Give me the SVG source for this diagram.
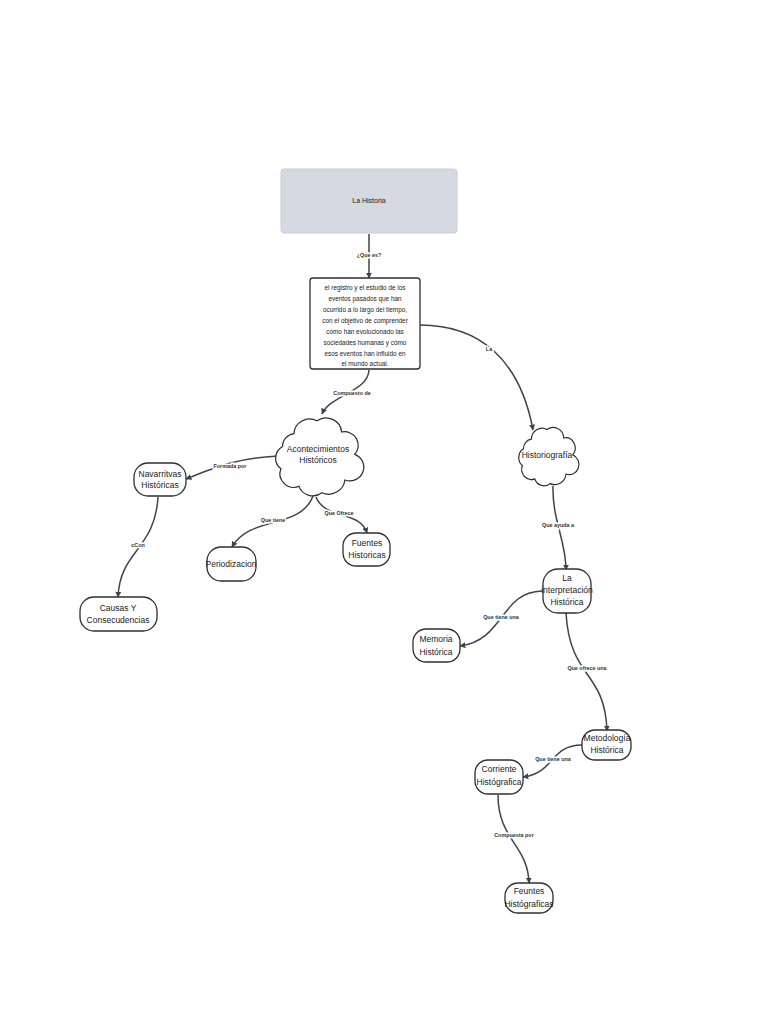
<svg xmlns="http://www.w3.org/2000/svg" width="768" height="1024" viewBox="0 0 768 1024">
<style>
.node{fill:#fff;stroke:#2f2f2f;stroke-width:1.3}
.cloud{fill:#fff;stroke:#2f2f2f}
.t{font-family:"Liberation Sans",Arial,sans-serif;font-size:8.5px;fill:#1a1a1a;text-anchor:middle}
.bt{font-family:"Liberation Sans",Arial,sans-serif;font-size:6.4px;fill:#1a1a1a;text-anchor:middle}
.lbl{font-family:"Liberation Sans",Arial,sans-serif;font-size:5.4px;font-weight:bold;fill:#333;text-anchor:middle;stroke:#fff;stroke-width:3px;paint-order:stroke}
.c{fill:none;stroke:#3c4450;stroke-width:1.5}
</style>
<defs>
<marker id="ah" viewBox="0 0 10 10" refX="9" refY="5" markerWidth="6" markerHeight="6" orient="auto" markerUnits="userSpaceOnUse">
<path d="M0,0 L10,5 L0,10 Z" fill="#3c4450"/>
</marker>
<path id="cl" d="M22,22 A19,19 0 0 1 50,6 A19,19 0 0 1 80,20 A17,17 0 0 1 96,48 A17,17 0 0 1 84,80 A20,20 0 0 1 56,96 A18,18 0 0 1 28,88 A17,17 0 0 1 6,66 A17,17 0 0 1 8,38 A16,16 0 0 1 22,22 Z"/>
</defs>
<rect width="768" height="1024" fill="#fff"/>
<g id="connectors">
<path class="c" d="M369,234 L369,278" marker-end="url(#ah)"/>
<path class="c" d="M369,370 C368,392 330,395 322,414" marker-end="url(#ah)"/>
<path class="c" d="M420,325 C480,325 520,360 533,430" marker-end="url(#ah)"/>
<path class="c" d="M278,456 C240,458 220,465 186,479" marker-end="url(#ah)"/>
<path class="c" d="M158,497 C155,550 120,550 118,597" marker-end="url(#ah)"/>
<path class="c" d="M313,496 C300,530 250,515 232,547" marker-end="url(#ah)"/>
<path class="c" d="M316,497 C325,520 360,510 367,533" marker-end="url(#ah)"/>
<path class="c" d="M553,486 C552,520 566,540 566,570" marker-end="url(#ah)"/>
<path class="c" d="M542,591 C500,592 505,640 460,646" marker-end="url(#ah)"/>
<path class="c" d="M566,613 C570,680 605,670 607,731" marker-end="url(#ah)"/>
<path class="c" d="M582,745 C550,745 555,773 523,777" marker-end="url(#ah)"/>
<path class="c" d="M498,795 C498,840 528,845 529,883" marker-end="url(#ah)"/>
</g>
<g id="labels">
<text class="lbl" x="369" y="257">¿Que es?</text>
<text class="lbl" x="352" y="395">Compuesto de</text>
<text class="lbl" x="489" y="351">La</text>
<text class="lbl" x="230" y="468">Formada por</text>
<text class="lbl" x="138" y="547">cCon</text>
<text class="lbl" x="273" y="522">Que tiene</text>
<text class="lbl" x="339" y="515">Que Ofrece</text>
<text class="lbl" x="558" y="527">Que ayuda a</text>
<text class="lbl" x="501" y="619">Que tiene una</text>
<text class="lbl" x="587" y="670">Que ofrece una</text>
<text class="lbl" x="553" y="761">Que tiene una</text>
<text class="lbl" x="514" y="837">Compuesta por</text>
</g>
<g id="n-historia">
<rect x="281" y="169" width="176" height="64" rx="3" fill="#d5d9e1" stroke="#c9ced6" stroke-width="1"/>
<text class="bt" x="369" y="203" style="font-size:7px">La Historia</text>
</g>
<g id="n-definicion">
<rect class="node" x="310" y="278" width="110" height="91" rx="3"/>
<text class="bt" x="365" y="290">el registro y el estudio de los</text>
<text class="bt" x="365" y="301">eventos pasados que han</text>
<text class="bt" x="365" y="312">ocurrido a lo largo del tiempo,</text>
<text class="bt" x="365" y="323">con el objetivo de comprender</text>
<text class="bt" x="365" y="334">cómo han evolucionado las</text>
<text class="bt" x="365" y="345">sociedades humanas y cómo</text>
<text class="bt" x="365" y="356">esos eventos han influido en</text>
<text class="bt" x="365" y="366">el mundo actual.</text>
</g>
<g id="n-acontecimientos">
<use href="#cl" class="cloud" transform="translate(276,416) scale(0.82,0.8)" style="stroke-width:1.5"/>
<text class="t" x="318" y="452">Acontecimientos</text>
<text class="t" x="318" y="463">Históricos</text>
</g>
<g id="n-historiografia">
<use href="#cl" class="cloud" transform="translate(519,426) scale(0.56,0.6)" style="stroke-width:2.1"/>
<text class="t" x="547" y="458">Historiografía</text>
</g>
<g id="n-navarritvas">
<rect class="node" x="134" y="463" width="52" height="33" rx="14"/>
<text class="t" x="160" y="477">Navarritvas</text>
<text class="t" x="160" y="488">Históricas</text>
</g>
<g id="n-causas">
<rect class="node" x="80" y="597" width="77" height="34" rx="14"/>
<text class="t" x="118" y="611">Causas Y</text>
<text class="t" x="118" y="623">Consecudencias</text>
</g>
<g id="n-periodizacion">
<rect class="node" x="207" y="547" width="49" height="34" rx="14"/>
<text class="t" x="231" y="567">Periodizacion</text>
</g>
<g id="n-fuentes">
<rect class="node" x="343" y="533" width="47" height="33" rx="13"/>
<text class="t" x="367" y="546">Fuentes</text>
<text class="t" x="367" y="558">Historicas</text>
</g>
<g id="n-interpretacion">
<rect class="node" x="543" y="569" width="48" height="44" rx="15"/>
<text class="t" x="567" y="581">La</text>
<text class="t" x="567" y="593">interpretación</text>
<text class="t" x="567" y="605">Histórica</text>
</g>
<g id="n-memoria">
<rect class="node" x="413" y="629" width="47" height="33" rx="13"/>
<text class="t" x="436" y="642">Memoria</text>
<text class="t" x="436" y="655">Histórica</text>
</g>
<g id="n-metodologia">
<rect class="node" x="582" y="730" width="49" height="30" rx="13"/>
<text class="t" x="607" y="741">Metodología</text>
<text class="t" x="607" y="753">Histórica</text>
</g>
<g id="n-corriente">
<rect class="node" x="475" y="760" width="48" height="34" rx="13"/>
<text class="t" x="499" y="772">Corriente</text>
<text class="t" x="499" y="785">Histógrafica</text>
</g>
<g id="n-feuntes">
<rect class="node" x="505" y="883" width="48" height="30" rx="13"/>
<text class="t" x="529" y="894">Feuntes</text>
<text class="t" x="529" y="907">Histógraficas</text>
</g>
</svg>
